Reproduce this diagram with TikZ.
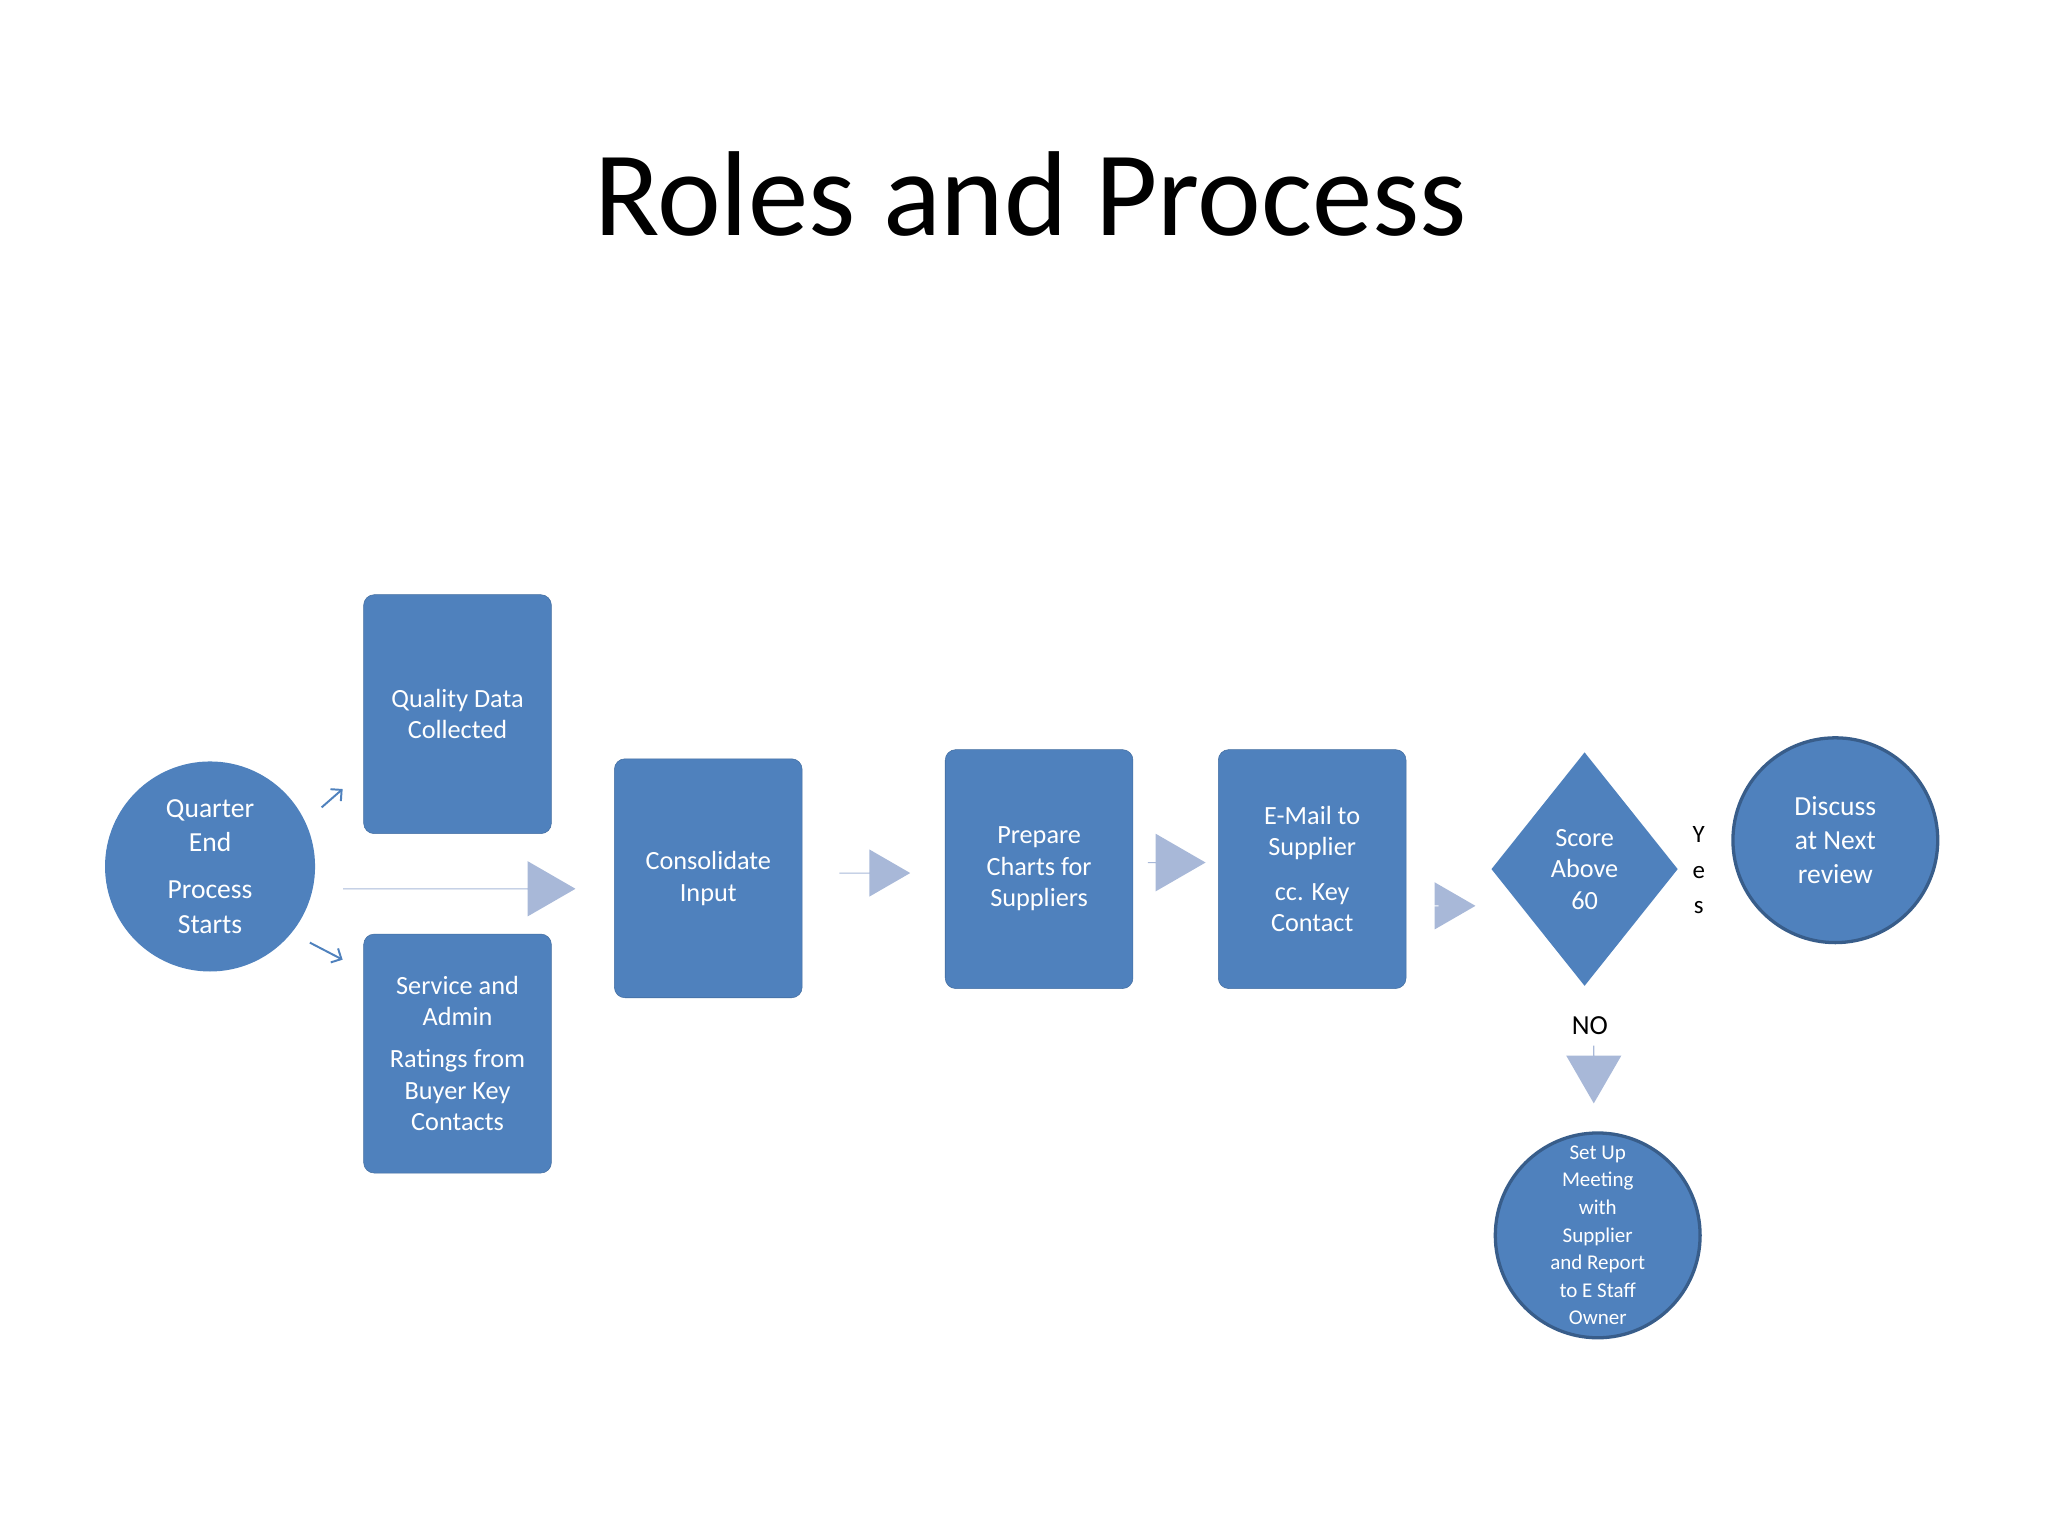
\documentclass[tikz,border=0pt]{standalone}
\usepackage{fontspec}
\setmainfont{Carlito}
\usetikzlibrary{shapes.geometric,shapes.arrows,arrows.meta}
\definecolor{bl}{RGB}{79,129,189}
\definecolor{bd}{RGB}{56,93,138}
\definecolor{la}{RGB}{168,184,216}
\begin{document}
\begin{tikzpicture}[x=1pt,y=-1pt,
 box/.style={fill=bl,draw=bl!85!black,rounded corners=8,minimum width=143,minimum height=182,text=white,align=center,font=\fontsize{20}{24}\selectfont},
 circ/.style={circle,fill=bl,text=white,align=center,font=\fontsize{21}{26}\selectfont},
 barrow/.style={single arrow,fill=la,shape border rotate=#1,single arrow tip angle=60,inner sep=0pt},
 sm/.style={-{Straight Barb[length=6pt]},draw=bl,line width=1.5pt}]
\useasboundingbox (0,0) rectangle (1560,1170);
\node[font=\fontsize{92}{100}\selectfont] (title) at (785,148) {Roles and Process};
\node[circ,minimum size=160] (q) at (160,660) {Quarter\\End\\[10pt]Process\\Starts};
\node[box] (qd) at (348.5,544) {Quality Data\\Collected};
\node[box] (sa) at (348.5,802.5) {Service and\\Admin\\[8pt]Ratings from\\Buyer Key\\Contacts};
\coordinate (a1s) at (245,615); \coordinate (a1e) at (261,601);
\coordinate (a2s) at (236,718); \coordinate (a2e) at (261,731);
\draw[sm] (a1s) -- (a1e);
\draw[sm] (a2s) -- (a2e);
\node[barrow=0,minimum height=177,minimum width=42,single arrow head extend=10] (b1) at (349.5,677) {};
\node[box] (ci) at (539.5,669) {Consolidate\\Input};
\node[barrow=0,minimum height=54,minimum width=36,single arrow head extend=9] (b2) at (666,665) {};
\node[box] (pc) at (791.5,662) {Prepare\\Charts for\\Suppliers};
\node[barrow=0,minimum height=44,minimum width=44,single arrow head extend=12] (b3) at (896,657) {};
\node[box] (em) at (999.5,662) {E-Mail to\\Supplier\\[10pt]cc. Key\\Contact};
\node[barrow=0,minimum height=28,minimum width=36,single arrow head extend=8] (b4) at (1109.5,690) {};
\node[diamond,fill=bl,minimum width=142,minimum height=178,inner sep=0pt,text=white,align=center,font=\fontsize{20}{24}\selectfont] (sc) at (1207,662) {Score\\Above\\60};
\node[align=center,font=\fontsize{19}{27}\selectfont] (yes) at (1294,663) {Y\\e\\s};
\node[circ,draw=bd,line width=2.5pt,minimum size=156] (dn) at (1398,640) {Discuss\\at Next\\review};
\node[font=\fontsize{21}{24}\selectfont] (no) at (1211,781) {NO};
\node[barrow=270,minimum height=44,minimum width=42,single arrow head extend=8] (b5) at (1214,818) {};
\node[circ,draw=bd,line width=2.5pt,minimum size=156,inner sep=0pt,font=\fontsize{16}{21}\selectfont] (su) at (1217,941) {Set Up\\Meeting\\with\\Supplier\\and Report\\to E Staff\\Owner};
\end{tikzpicture}
\end{document}
